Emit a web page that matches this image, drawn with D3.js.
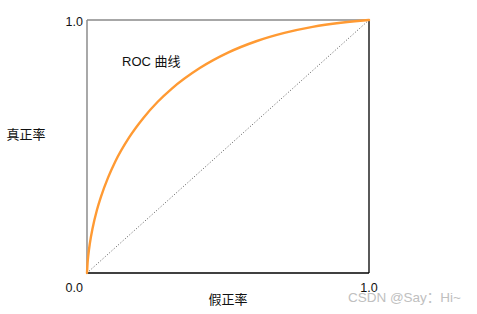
<!DOCTYPE html>
<html><head><meta charset="utf-8">
<script src="https://cdn.jsdelivr.net/npm/d3@7"></script>
<style>
html,body{margin:0;padding:0;background:#fff;}
svg{display:block;}
text{font-family:"Liberation Sans",Arial,"Noto Sans CJK SC",sans-serif;fill:#111;}
</style></head>
<body>
<svg id="chart" width="477" height="314"></svg>
<script>
// ROC curve points: false positive rate, true positive rate
const fpr = [0, 0.002, 0.005, 0.01, 0.02, 0.035, 0.05, 0.075, 0.1, 0.15, 0.2, 0.25, 0.3, 0.4, 0.5, 0.6, 0.7, 0.8, 0.9, 0.95, 1.0];
const tpr = [0, 0.040, 0.074, 0.116, 0.178, 0.248, 0.303, 0.378, 0.440, 0.537, 0.613, 0.676, 0.728, 0.810, 0.871, 0.916, 0.949, 0.973, 0.989, 0.995, 1.0];
const diagonal = [0, 1];
const tickLabels = ["0.0", "1.0"];
const xTitle = "假正率";
const yTitle = "真正率";
const curveLabel = "ROC 曲线";
const watermark = "CSDN @Say：Hi~";

const svg = d3.select("#chart");
const L = 87, T = 20, R = 369, B = 273;
const x = d3.scaleLinear().domain([0, 1]).range([L, R]);
const y = d3.scaleLinear().domain([0, 1]).range([B, T]);

// frame: left & top gray, right & bottom black
svg.append("line").attr("x1", x(0)).attr("y1", y(0)).attr("x2", x(0)).attr("y2", y(1))
  .attr("stroke", "#7a7a7a").attr("stroke-width", 1.3);
svg.append("line").attr("x1", x(0)).attr("y1", y(1)).attr("x2", x(1)).attr("y2", y(1))
  .attr("stroke", "#8a8a8a").attr("stroke-width", 1.3);
svg.append("line").attr("x1", x(1)).attr("y1", y(1)).attr("x2", x(1)).attr("y2", y(0))
  .attr("stroke", "#000").attr("stroke-width", 1.3);
svg.append("line").attr("x1", x(0)).attr("y1", y(0)).attr("x2", x(1)).attr("y2", y(0))
  .attr("stroke", "#000").attr("stroke-width", 1.3);

// diagonal dotted
svg.append("path")
  .attr("d", d3.line().x(d => x(d)).y(d => y(d))(diagonal))
  .attr("fill", "none").attr("stroke", "#444").attr("stroke-width", 0.9)
  .attr("stroke-dasharray", "1,2");

// ROC curve
const pts = fpr.map((f, i) => [f, tpr[i]]);
svg.append("path")
  .attr("d", d3.line().x(d => x(d[0])).y(d => y(d[1])).curve(d3.curveMonotoneX)(pts))
  .attr("fill", "none").attr("stroke", "#ff9a33").attr("stroke-width", 2.4)
  .attr("stroke-linecap", "round").attr("stroke-linejoin", "round");

// tick labels
svg.append("text").attr("x", x(0) - 4).attr("y", y(1) + 6).attr("text-anchor", "end")
  .attr("font-size", 12.5).text(tickLabels[1]);
svg.append("text").attr("x", x(0) - 4).attr("y", y(0) + 18.5).attr("text-anchor", "end")
  .attr("font-size", 12.5).text(tickLabels[0]);
svg.append("text").attr("x", x(1)).attr("y", y(0) + 18.5).attr("text-anchor", "middle")
  .attr("font-size", 12.5).text(tickLabels[1]);

// titles
svg.append("text").attr("x", 228).attr("y", 304).attr("text-anchor", "middle")
  .attr("font-size", 13).style("font-family", "'Noto Sans CJK SC',sans-serif").text(xTitle);
svg.append("text").attr("x", 26).attr("y", 139).attr("text-anchor", "middle")
  .attr("font-size", 13).style("font-family", "'Noto Sans CJK SC',sans-serif").text(yTitle);
svg.append("text").attr("x", 122).attr("y", 65.5)
  .attr("font-size", 13).text(curveLabel);

// watermark
svg.append("text").attr("x", 461).attr("y", 302).attr("text-anchor", "end")
  .attr("font-size", 13.5).style("fill", "#c0c0c0").text(watermark);
</script>
</body></html>
